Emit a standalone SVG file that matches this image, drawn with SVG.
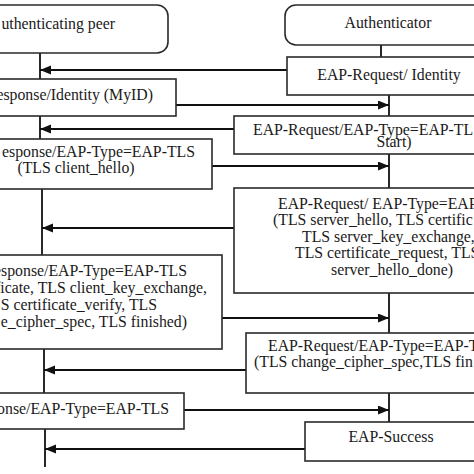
<svg xmlns="http://www.w3.org/2000/svg" width="474" height="474" viewBox="0 0 474 474">
<style>
.box{fill:#fff;stroke:#2a2a2a;stroke-width:1.6}
.t{font-family:"Liberation Serif","Times New Roman",serif;font-size:15.8px;fill:#1a1a1a}
.s{text-anchor:start}.e{text-anchor:end}.m{text-anchor:middle}
.ln{stroke:#111;stroke-width:1.8;fill:none}
.ar{stroke:#111;stroke-width:2;fill:none;marker-end:url(#ah)}
</style>
<defs>
<marker id="ah" markerUnits="userSpaceOnUse" markerWidth="12" markerHeight="10" refX="11" refY="4.5" orient="auto">
<path d="M0,0 L11,4.5 L0,9 z" fill="#111"/>
</marker>
</defs>
<rect width="474" height="474" fill="#fff"/>
<g id="connectors">
<line class="ln" x1="40" y1="53" x2="40" y2="79"/>
<line class="ln" x1="40" y1="116" x2="40" y2="139"/>
<line class="ln" x1="42" y1="189" x2="42" y2="255"/>
<line class="ln" x1="44" y1="349" x2="44" y2="393"/>
<line class="ln" x1="45" y1="429" x2="45" y2="467"/>
<line class="ln" x1="381" y1="45" x2="381" y2="57"/>
<line class="ln" x1="389" y1="95" x2="389" y2="116"/>
<line class="ln" x1="389" y1="154" x2="389" y2="188"/>
<line class="ln" x1="389" y1="293" x2="389" y2="333"/>
<line class="ln" x1="389" y1="393" x2="389" y2="422"/>
<line class="ar" x1="287" y1="70" x2="40" y2="70"/>
<line class="ar" x1="176" y1="105" x2="389" y2="105"/>
<line class="ar" x1="234" y1="129" x2="40" y2="129"/>
<line class="ar" x1="212" y1="166" x2="389" y2="166"/>
<line class="ar" x1="234" y1="228" x2="42" y2="228"/>
<line class="ar" x1="222" y1="318" x2="389" y2="318"/>
<line class="ar" x1="246" y1="370" x2="44" y2="370"/>
<line class="ar" x1="184" y1="410" x2="389" y2="410"/>
<line class="ar" x1="305" y1="449" x2="45" y2="449"/>
</g>
<g id="peer">
<rect class="box" x="-64" y="5" width="232" height="48" rx="11"/>
<text class="t e" x="115" y="29">uthenticating peer</text>
</g>
<g id="authenticator">
<rect class="box" x="285" y="5" width="205" height="40" rx="11"/>
<text class="t m" x="388" y="28">Authenticator</text>
</g>
<g id="req-identity">
<rect class="box" x="287" y="57" width="200" height="38"/>
<text class="t m" x="389" y="80">EAP-Request/ Identity</text>
</g>
<g id="resp-identity">
<rect class="box" x="-60" y="79" width="236" height="37"/>
<text class="t e" x="153" y="100">esponse/Identity (MyID)</text>
</g>
<g id="req-start">
<rect class="box" x="234" y="116" width="260" height="38"/>
<text class="t s" x="253" y="135">EAP-Request/EAP-Type=EAP-TL</text>
<text class="t m" x="394" y="147">Start)</text>
</g>
<g id="resp-client-hello">
<rect class="box" x="-62" y="139" width="274" height="50"/>
<text class="t e" x="195" y="157">esponse/EAP-Type=EAP-TLS</text>
<text class="t m" x="76" y="173">(TLS client_hello)</text>
</g>
<g id="req-server-hello">
<rect class="box" x="234" y="188" width="260" height="105"/>
<text class="t s" x="278" y="209">EAP-Request/ EAP-Type=EAP</text>
<text class="t s" x="273" y="225">(TLS server_hello, TLS certific</text>
<text class="t s" x="302" y="242">TLS server_key_exchange,</text>
<text class="t s" x="295" y="258">TLS certificate_request, TLS</text>
<text class="t m" x="392" y="275">server_hello_done)</text>
</g>
<g id="resp-certificate">
<rect class="box" x="-91" y="255" width="313" height="94"/>
<text class="t e" x="187" y="276">esponse/EAP-Type=EAP-TLS</text>
<text class="t e" x="207" y="293">ficate, TLS client_key_exchange,</text>
<text class="t e" x="157" y="310">S certificate_verify, TLS</text>
<text class="t e" x="187" y="327">e_cipher_spec, TLS finished)</text>
</g>
<g id="req-change-cipher">
<rect class="box" x="246" y="333" width="250" height="60"/>
<text class="t s" x="268" y="351">EAP-Request/EAP-Type=EAP-T</text>
<text class="t s" x="254" y="367">(TLS change_cipher_spec,TLS fin</text>
</g>
<g id="resp-final">
<rect class="box" x="-60" y="393" width="244" height="36"/>
<text class="t e" x="169" y="414">onse/EAP-Type=EAP-TLS</text>
</g>
<g id="success">
<rect class="box" x="305" y="422" width="180" height="39"/>
<text class="t m" x="391" y="442">EAP-Success</text>
</g>
</svg>
